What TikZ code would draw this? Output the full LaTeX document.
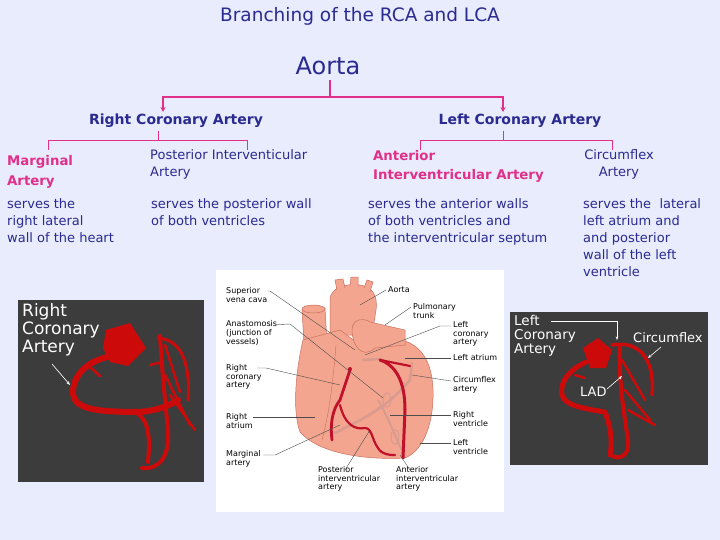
\documentclass[tikz,border=0pt]{standalone}
\usepackage{fontspec}
\setmainfont{DejaVu Sans}
\usetikzlibrary{arrows.meta}
\definecolor{bg}{HTML}{E8ECFC}
\definecolor{navy}{HTML}{2A2A90}
\definecolor{pnk}{HTML}{E0308A}
\definecolor{salmon}{HTML}{F4A590}
\definecolor{salmonD}{HTML}{C8705E}
\definecolor{vred}{HTML}{C0102A}
\definecolor{ired}{HTML}{CC0A0A}
\definecolor{dgray}{HTML}{3C3C3C}
\begin{document}
\begin{tikzpicture}[x=1pt,y=-1pt,
  nv/.style={text=navy,inner sep=0pt},
  pk/.style={text=pnk,inner sep=0pt,font=\bfseries\fontsize{13.3}{20}\selectfont},
  br/.style={draw=pnk,line width=2.2pt},
  thin/.style={draw=pnk,line width=0.8pt},
  desc/.style={nv,anchor=north west,align=left,font=\fontsize{13}{17}\selectfont},
  lab/.style={inner sep=0pt,font=\fontsize{8}{8.6}\selectfont,anchor=west,text=black},
  lead/.style={draw=black!70,line width=0.4pt},
  wt/.style={text=white,inner sep=0pt,anchor=west},
  ves/.style={draw=ired,line cap=round,line join=round}]
\fill[bg] (0,0) rectangle (720,540);
\useasboundingbox (0,0) rectangle (720,540);
% titles
\node[nv,font=\fontsize{18.5}{20}\selectfont] (title) at (360,16) {Branching of the RCA and LCA};
\node[nv,font=\fontsize{24}{26}\selectfont] (aorta) at (328,66) {Aorta};
\node[nv,font=\bfseries\fontsize{14}{16}\selectfont] (rca) at (176,121) {Right Coronary Artery};
\node[nv,font=\bfseries\fontsize{14}{16}\selectfont] (lca) at (520,121) {Left Coronary Artery};
\coordinate (j) at (330,97);
\draw[br] (330,80) -- (j);
\draw[br] (163,97) -- (503,97);
\draw[pnk,line width=1.5pt,-{Stealth[length=5pt,width=5pt]}] (163,96) -- (163,112);
\draw[pnk,line width=1.5pt,-{Stealth[length=5pt,width=5pt]}] (503,96) -- (503,112);
% sub branches
\draw[thin] (158,131) -- (158,140) (48,140) -- (247,140) (48,140) -- (48,150) (247,140) -- (247,150);
\draw[thin] (503,131) -- (503,140) (420,140) -- (612,140) (420,140) -- (420,150) (612,140) -- (612,150);
\node[pk,anchor=west,align=left] (marg) at (7,172) {Marginal\\Artery};
\node[nv,anchor=west,align=left,font=\fontsize{13}{17}\selectfont] (pia) at (150,164) {Posterior Interventicular\\Artery};
\node[pk,anchor=west,align=left,font=\bfseries\fontsize{13.3}{19}\selectfont] (aia) at (373,166) {Anterior\\Interventricular Artery};
\node[nv,align=center,font=\fontsize{13}{17}\selectfont] (cx) at (619,164) {Circumflex\\Artery};
% descriptions
\node[desc] (d1) at (7,198) {serves the\\right lateral\\wall of the heart};
\node[desc] (d2) at (151,198) {serves the posterior wall\\of both ventricles};
\node[desc] (d3) at (368,198) {serves the anterior walls\\of both ventricles and\\the interventricular septum};
\node[desc] (d4) at (583,198) {serves the \ lateral\\left atrium and\\and posterior\\wall of the left\\ventricle};
% ---------- left image
\fill[dgray] (18,300) rectangle (204,482);
\begin{scope}
\draw[ves,line width=6pt] (112,356) .. controls (90,360) and (75,372) .. (73,390) .. controls (72,408) and (90,412) .. (140,412) .. controls (160,410) and (170,405) .. (178,400);
\draw[ves,line width=4pt] (135,412) .. controls (150,420) and (150,440) .. (148,462);
\draw[ves,line width=4pt] (160,336) .. controls (162,370) and (165,400) .. (168,430) .. controls (170,455) and (160,470) .. (142,468);
\draw[ves,line width=3pt] (158,338) .. controls (185,340) and (190,370) .. (188,400);
\draw[ves,line width=2.5pt] (165,345) -- (180,392) (165,375) -- (190,425) (170,395) -- (195,430) (150,365) -- (162,362) (90,367) -- (100,376);
\fill[ired] (106,330) -- (130,323) -- (146,348) -- (128,366) -- (110,362) -- (103,348) -- cycle;
\end{scope}
\node[wt,align=left,font=\fontsize{17}{18}\selectfont] (rtxt) at (22,330) {Right\\Coronary\\Artery};
\draw[white,line width=0.6pt,-{Stealth[length=4pt]}] (52,364) -- (70,385);
% ---------- right image
\fill[dgray] (510,312) rectangle (708,465);
\draw[ves,line width=5pt] (586,362) .. controls (565,372) and (560,385) .. (562,395) .. controls (565,405) and (580,408) .. (605,412) .. controls (612,430) and (612,445) .. (610,455);
\draw[ves,line width=4pt] (620,345) .. controls (618,380) and (625,420) .. (628,440) .. controls (630,455) and (620,460) .. (612,456);
\draw[ves,line width=3.5pt] (612,345) .. controls (640,340) and (655,360) .. (652,395);
\draw[ves,line width=2.5pt] (622,360) -- (645,400) (625,390) -- (650,420) (628,410) -- (655,425) (575,375) -- (585,378);
\fill[ired] (583,348) -- (598,338) -- (612,350) -- (606,368) -- (590,368) -- cycle;
\node[wt,align=left,font=\fontsize{13.5}{14}\selectfont] (ltxt) at (514,336) {Left\\Coronary\\Artery};
\draw[white,line width=0.6pt,-{Stealth[length=3.5pt]}] (551,321) -- (617,321) -- (617,340);
\node[wt,font=\fontsize{13}{14}\selectfont] (circ) at (633,338) {Circumflex};
\draw[white,line width=0.6pt,-{Stealth[length=3.5pt]}] (661,347) -- (648,358);
\node[wt,font=\fontsize{13}{14}\selectfont] (lad) at (580,392) {LAD};
\draw[white,line width=0.6pt,-{Stealth[length=3.5pt]}] (607,389) -- (622,376);
% ---------- middle heart
\fill[white] (216,270) rectangle (504,512);
\begin{scope}[draw=salmonD,line width=0.5pt]
\filldraw[fill=salmon] (330,335) -- (330,300) .. controls (330,288) and (345,283) .. (360,285) .. controls (372,287) and (378,295) .. (376,310) -- (372,335) -- cycle;
\filldraw[fill=salmon] (337,290) -- (335,280) -- (343,279) -- (345,288) (350,286) -- (351,277) -- (358,277) -- (358,287) (364,288) -- (367,280) -- (373,282) -- (370,292);
\filldraw[fill=salmon] (302,310) -- (305,360) -- (328,360) -- (325,308) -- cycle;
\filldraw[fill=salmon] (313.5,309) ellipse (11.5pt and 4pt);
\filldraw[fill=salmon] (303,340) .. controls (296,370) and (292,410) .. (300,432) .. controls (320,455) and (370,460) .. (405,458) .. controls (425,450) and (434,420) .. (433,390) .. controls (432,360) and (420,345) .. (402,340) -- (360,345) -- (340,330) -- cycle;
\filldraw[fill=salmon] (352,330) .. controls (352,318) and (365,318) .. (370,322) -- (405,330) -- (405,345) -- (375,348) .. controls (362,360) and (352,345) .. (352,330);
\end{scope}
\draw[salmonD,line width=0.4pt] (336,345) .. controls (333,380) and (330,410) .. (322,440);
\draw[salmonD!70,line width=2.5pt,line cap=round] (363,360) -- (380,359) (335,433) .. controls (360,420) and (385,410) .. (410,380) -- (412,363);
\draw[salmonD!70,line width=2pt] (378,400) .. controls (395,430) and (395,440) .. (405,455);
\draw[salmonD!70,line width=1pt] (387,400) ellipse (4pt and 7pt) (395,437) ellipse (4pt and 7pt);
\draw[vred,line width=2.8pt,line cap=round,line join=round] (350,370) -- (340,400) .. controls (332,410) and (330,425) .. (332,440);
\draw[vred,line width=2.2pt,line cap=round] (340,405) .. controls (345,425) and (355,430) .. (365,428) .. controls (372,428) and (372,440) .. (378,448) .. controls (382,455) and (390,455) .. (395,455);
\draw[vred,line width=3pt,line cap=round] (380,360) .. controls (395,365) and (405,380) .. (405,410) -- (403,458);
\draw[vred,line width=2.2pt,line cap=round] (380,360) -- (410,366);
\fill[vred] (350,369) circle (2pt);
% labels
\node[lab,align=left] (svc) at (226,295) {Superior\\vena cava};
\node[lab,align=left] (ana) at (226,333) {Anastomosis\\(junction of\\vessels)};
\node[lab,align=left] (rcoa) at (226,377) {Right\\coronary\\artery};
\node[lab,align=left] (ra) at (226,421) {Right\\atrium};
\node[lab,align=left] (ma) at (226,459) {Marginal\\artery};
\node[lab,align=left] (pia2) at (318,479) {Posterior\\interventricular\\artery};
\node[lab,align=left] (aia2) at (396,479) {Anterior\\interventricular\\artery};
\node[lab] (ao) at (388,290) {Aorta};
\node[lab,align=left] (pt) at (413,311) {Pulmonary\\trunk};
\node[lab,align=left] (lcoa) at (453,334) {Left\\coronary\\artery};
\node[lab] (la) at (453,358) {Left atrium};
\node[lab,align=left] (ca) at (453,385) {Circumflex\\artery};
\node[lab,align=left] (rv) at (453,419) {Right\\ventricle};
\node[lab,align=left] (lv) at (453,447) {Left\\ventricle};
\draw[lead] (svc.east|-0,291) -- (270,291) -- (355,350);
\draw[lead] (ana.north east) ++(0,4) -- (290,324) -- (383,398);
\draw[lead] (257,368) -- (266,368) -- (340,385);
\draw[lead] (253,417) -- (315,417);
\draw[lead] (263,455) -- (275,455) -- (340,425);
\draw[lead] (345,470) -- (370,430);
\draw[lead] (410,470) -- (400,455);
\draw[lead] (386,290) -- (360,305);
\draw[lead] (411,307) -- (385,325);
\draw[lead] (451,326) -- (440,326) -- (365,355);
\draw[lead] (451,358) -- (405,358);
\draw[lead] (451,381) -- (412,375);
\draw[lead] (451,415) -- (390,415);
\draw[lead] (451,443) -- (420,443);
\end{tikzpicture}
\end{document}
